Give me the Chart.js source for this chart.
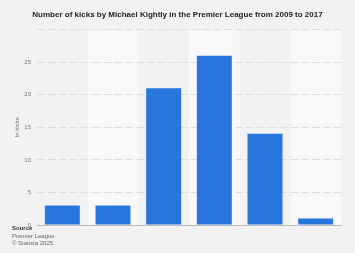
<!DOCTYPE html>
<html>
<head>
<meta charset="utf-8">
<title>Kicks by Michael Kightly</title>
<script src="https://cdn.jsdelivr.net/npm/chart.js"></script>
<style>
  html, body { margin: 0; padding: 0; background: #f2f2f2; }
  body { width: 355px; height: 253px; overflow: hidden; font-family: Arial, 'Liberation Sans', sans-serif; }
  .wrap { position: relative; width: 355px; height: 253px; }
  .source { position: absolute; left: 12px; top: 225px; font-size: 6px; line-height: 7.5px; color: #666; }
  .source b { color: #333; font-weight: bold; }
</style>
</head>
<body>
<div class="wrap">
  <canvas id="chart" width="355" height="253"></canvas>
  <div class="source"><b>Source</b><br>Premier League<br>© Statista 2025</div>
</div>
<script>
const seasons = ['2009/10', '2010/11', '2011/12', '2012/13', '2013/14', '2016/17'];
const kicks = [3, 3, 21, 26, 14, 1];
const yTicks = [0, 5, 10, 15, 20, 25, 30];

// alternating column bands behind grid and bars
const bands = {
  id: 'bands',
  beforeDraw(chart) {
    const { ctx, chartArea, scales } = chart;
    const x = scales.x;
    const w = (chartArea.right - chartArea.left) / seasons.length;
    ctx.save();
    seasons.forEach((s, i) => {
      const c = x.getPixelForValue(i);
      ctx.fillStyle = i % 2 ? '#f8f8f8' : '#f2f2f2';
      ctx.fillRect(c - w / 2, chartArea.top, w, chartArea.bottom - chartArea.top);
    });
    ctx.restore();
  }
};

new Chart(document.getElementById('chart').getContext('2d'), {
  type: 'bar',
  data: {
    labels: seasons,
    datasets: [{
      label: 'Kicks',
      data: kicks,
      backgroundColor: '#2876dd',
      categoryPercentage: 1,
      barPercentage: 0.69
    }]
  },
  options: {
    responsive: false,
    animation: false,
    layout: { padding: { left: 14, right: 14, top: 2, bottom: 27 } },
    plugins: {
      legend: { display: false },
      tooltip: { enabled: false },
      title: {
        display: true,
        text: 'Number of kicks by Michael Kightly in the Premier League from 2009 to 2017',
        color: '#222',
        font: { size: 8, weight: 'bold', family: 'Arial, Liberation Sans, sans-serif' },
        padding: { top: 8, bottom: 10 }
      }
    },
    scales: {
      x: {
        grid: { display: false },
        border: { display: true, color: '#bbb' },
        ticks: { display: false },
        afterFit(s) { s.height = 1; }
      },
      y: {
        min: 0,
        max: 30,
        afterBuildTicks(s) { s.ticks = yTicks.map(v => ({ value: v })); },
        afterFit(s) { s.width = 23; },
        border: { display: false, dash: [8, 3] },
        grid: { color: '#dedede', drawTicks: false },
        ticks: {
          color: '#777',
          padding: 6,
          font: { size: 6, family: 'Arial, Liberation Sans, sans-serif' },
          callback: v => (v === 30 ? '' : v)
        },
        title: {
          display: true,
          text: 'In kicks',
          color: '#777',
          padding: 0,
          font: { size: 6, family: 'Arial, Liberation Sans, sans-serif' }
        }
      }
    }
  },
  plugins: [bands]
});
</script>
</body>
</html>
